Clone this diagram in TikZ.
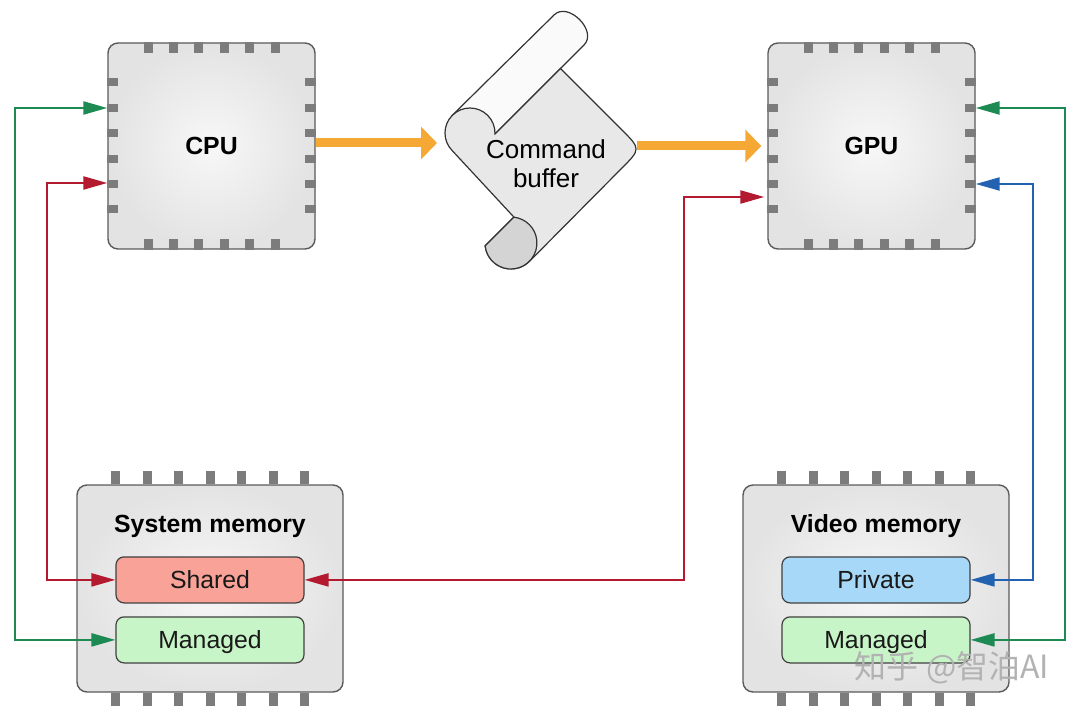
\documentclass[tikz,border=0pt]{standalone}
\usepackage{fontspec}
\setmainfont{Liberation Sans}
\newfontfamily\cjkfont{Noto Sans CJK SC}
\usepackage{tikz}
\usetikzlibrary{positioning,calc,arrows.meta}
\definecolor{chipline}{HTML}{5A5A5A}
\definecolor{pingray}{HTML}{7C7C7C}
\definecolor{sharedfill}{HTML}{F8A298}
\definecolor{managedfill}{HTML}{C8F5C8}
\definecolor{privatefill}{HTML}{A8D8F8}
\definecolor{flowor}{HTML}{F6A834}
\definecolor{lgreen}{HTML}{1C8A52}
\definecolor{lred}{HTML}{B3192F}
\definecolor{lblue}{HTML}{2262B0}
\tikzset{
  chip/.style={draw=chipline,line width=0.7pt,rounded corners=5pt,inner sep=0pt,
    shading=radial,inner color=white!97!black,outer color=white!89!black,
    font=\bfseries\fontsize{12.4}{15}\selectfont},
  memtitle/.style={text height=9pt,text depth=0pt,font=\bfseries\fontsize{12.4}{15}\selectfont},
  slot/.style={draw=black!75,line width=0.6pt,rounded corners=4pt,inner sep=0pt,
    minimum width=94pt,minimum height=23pt,text height=9pt,text depth=0pt,
    text=black!90,font=\fontsize{12.4}{15}\selectfont},
  pin/.style={fill=pingray},
  scrollline/.style={draw=black!80,line width=0.6pt},
  flow/.style={draw=flowor,line width=4.5pt,-{Triangle[length=8pt,width=16pt]}},
  link/.style={draw=#1,line width=1.1pt,{Triangle[length=12pt,width=6.5pt]}-{Triangle[length=12pt,width=6.5pt]}}
}
\begin{document}
\begin{tikzpicture}[x=0.5pt,y=0.5pt,on grid]
\useasboundingbox (0,0) rectangle (1080,718);
% processors
\node[chip,minimum width=103.5pt,minimum height=103pt](cpu) at (211.5,572){CPU};
\node[chip,minimum width=103.5pt,minimum height=103pt](gpu)[right=330pt of cpu]{GPU};
\foreach \chipname in {cpu,gpu}{
  \foreach \off in {-63.5,-38.1,-12.7,12.7,38.1,63.5}{
    \fill[pin] ($(\chipname.north)+(\off-4.5,-10.5)$) rectangle ++(9,10.5);
    \fill[pin] ($(\chipname.south)+(\off-4.5,0)$) rectangle ++(9,10.5);
    \fill[pin] ($(\chipname.west)+(0,\off-4)$) rectangle ++(10.5,8);
    \fill[pin] ($(\chipname.east)+(-10.5,\off-4)$) rectangle ++(10.5,8);
  }
}
% memories
\node[chip,minimum width=133pt,minimum height=103.5pt](sysmem) at (210,129.5){};
\node[chip,minimum width=133pt,minimum height=103.5pt](vidmem)[right=333pt of sysmem]{};
\foreach \chipname in {sysmem,vidmem}{
  \foreach \off in {-94.5,-63,-31.5,0,31.5,63,94.5}{
    \fill[pin] ($(\chipname.north)+(\off-4.5,0)$) rectangle ++(9,13);
    \fill[pin] ($(\chipname.south)+(\off-4.5,-13)$) rectangle ++(9,13);
  }
}
\node[memtitle](systitle)[above=32.6pt of sysmem]{System memory};
\node[memtitle](vidtitle)[above=32.6pt of vidmem]{Video memory};
\node[slot,fill=sharedfill](sysshared)[below=28.3pt of systitle]{Shared};
\node[slot,fill=managedfill](sysmanaged)[below=30pt of sysshared]{Managed};
\node[slot,fill=privatefill](vidprivate)[below=28.3pt of vidtitle]{Private};
\node[slot,fill=managedfill](vidmanaged)[below=30pt of vidprivate]{Managed};
% command buffer scroll
\filldraw[scrollline,fill=white!98!black] (452.3,602.7) -- (554,703) .. controls (568,717) and (598,687) .. (584,673) -- (495,584) -- cycle;
\filldraw[scrollline,fill=white!91!black] (495,584) -- (560.5,649.5) -- (621.2,588.8) .. controls (641,569) .. (621.2,549.2) -- (529.4,456.6) arc[start angle=-45,end angle=-173.6,radius=13pt] -- (513.9,500.9) -- (452.3,567.3) arc[start angle=225,end angle=-2.3,radius=12.5pt] -- cycle;
\filldraw[scrollline,fill=white!83!black] (513.9,500.9) -- (485.1,472.1) arc[start angle=186.4,end angle=443.6,radius=13pt] -- cycle;
\node[align=center,font=\fontsize{13}{14.5}\selectfont](cmd) at (546,554){Command\\buffer};
\coordinate (cmdin) at (437,575);
\coordinate (cmdout) at (637,572);
\draw[flow] (cmdin -| cpu.east) -- (cmdin);
\draw[flow,shorten >=3pt] (cmdout) -- (gpu.west);
% memory links
\draw[link=lgreen] ([yshift=19pt]cpu.west) -- ++(-92,0) |- (sysmanaged.west);
\draw[link=lred] ([yshift=-18.5pt]cpu.west) -- ++(-60,0) |- (sysshared.west);
\draw[link=lred,shorten <=1.5pt] ([yshift=-25.5pt]gpu.west) -- ++(-83,0) |- (sysshared.east);
\draw[link=lblue] ([yshift=-19pt]gpu.east) -- ++(57,0) |- (vidprivate.east);
\draw[link=lgreen] ([yshift=19pt]gpu.east) -- ++(89,0) |- (vidmanaged.east);
\node[text=black!30,font=\cjkfont\fontsize{16}{18}\selectfont](wm) at (952,50){知乎 @智泊AI};
\end{tikzpicture}
\end{document}
